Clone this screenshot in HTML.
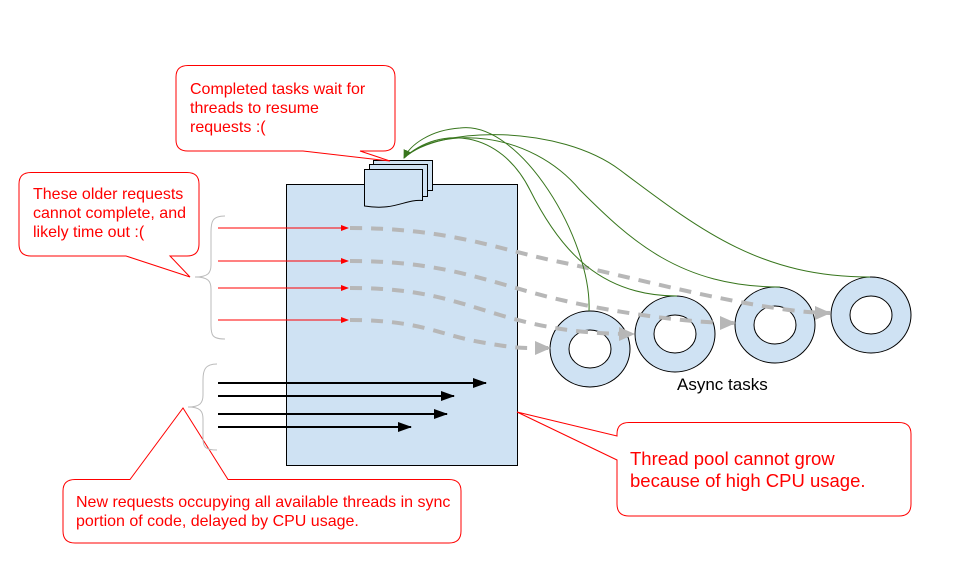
<!DOCTYPE html>
<html><head><meta charset="utf-8"><style>
html,body{margin:0;padding:0;background:#fff;}
svg{display:block;font-family:"Liberation Sans",Arial,sans-serif;}
</style></head><body>
<svg width="960" height="574" viewBox="0 0 960 574" xmlns="http://www.w3.org/2000/svg">
<defs>
<marker id="ar" markerWidth="8" markerHeight="6" refX="7" refY="3" orient="auto" markerUnits="userSpaceOnUse"><path d="M0,0 L8,3 L0,6 Z" fill="#f00"/></marker>
<marker id="ab" markerWidth="14" markerHeight="10" refX="13" refY="5" orient="auto" markerUnits="userSpaceOnUse"><path d="M0,0 L14,5 L0,10 Z" fill="#000"/></marker>
<marker id="ag" markerWidth="16" markerHeight="14" refX="15" refY="7" orient="auto" markerUnits="userSpaceOnUse"><path d="M0,0 L16,7 L0,14 Z" fill="#b7b7b7"/></marker>
<marker id="agr" markerWidth="9" markerHeight="8" refX="8" refY="4" orient="auto" markerUnits="userSpaceOnUse"><path d="M0,0 L9,4 L0,8 Z" fill="#38761d"/></marker>
</defs>

<rect x="286.5" y="184.5" width="231" height="281" fill="#cfe2f3" stroke="#000" stroke-width="1"/>

<path d="M373.5,160.5 H432.5 V190.5 H373.5 Z" fill="#cfe2f3" stroke="#000"/>
<path d="M369.5,164.5 H427.5 V196.5 H369.5 Z" fill="#cfe2f3" stroke="#000"/>
<path d="M364.5,169.5 H422.5 V200.5 C405,199 395,211 364.5,206 Z" fill="#cfe2f3" stroke="#000"/>

<g fill="#cfe2f3" stroke="#000" stroke-width="1">
<ellipse cx="590" cy="349" rx="40" ry="38"/><ellipse cx="590" cy="349" rx="21" ry="19" fill="#fff"/>
<ellipse cx="675" cy="334" rx="40" ry="38"/><ellipse cx="675" cy="334" rx="21" ry="19" fill="#fff"/>
<ellipse cx="775" cy="325" rx="40" ry="38"/><ellipse cx="775" cy="325" rx="21" ry="19" fill="#fff"/>
<ellipse cx="871" cy="315" rx="40" ry="38"/><ellipse cx="871" cy="315" rx="21" ry="19" fill="#fff"/>
</g>
<text x="677" y="390" font-size="17" fill="#000">Async tasks</text>

<g fill="none" stroke="#b7b7b7" stroke-width="4" stroke-dasharray="12,9">
<path d="M350,228 C450,228 500,250 560,262 S760,313 830,313" marker-end="url(#ag)"/>
<path d="M350,261 C430,261 470,275 530,292 S680,323 735,323" marker-end="url(#ag)"/>
<path d="M350,288 C420,288 450,300 500,315 S590,334 634,334" marker-end="url(#ag)"/>
<path d="M350,320 C420,320 440,335 480,342 S520,348 550,348" marker-end="url(#ag)"/>
</g>

<g fill="none" stroke="#38761d" stroke-width="1">
<path d="M589,311 C592,240 520,120 460,128 C430,130 410,145 404,158" marker-end="url(#agr)"/>
<path d="M677,296 C600,296 560,250 530,190 C500,130 440,125 404,158"/>
<path d="M780,287 C680,287 630,240 580,190 C530,130 440,125 404,158"/>
<path d="M870,277 C760,277 700,230 620,170 C560,125 440,125 404,158"/>
</g>

<g stroke="#f00" stroke-width="1" fill="none">
<line x1="218" y1="228" x2="348" y2="228" marker-end="url(#ar)"/>
<line x1="218" y1="261" x2="348" y2="261" marker-end="url(#ar)"/>
<line x1="218" y1="288" x2="348" y2="288" marker-end="url(#ar)"/>
<line x1="218" y1="320" x2="348" y2="320" marker-end="url(#ar)"/>
</g>

<g stroke="#000" stroke-width="2" fill="none">
<line x1="218" y1="383" x2="486" y2="383" marker-end="url(#ab)"/>
<line x1="218" y1="396" x2="454" y2="396" marker-end="url(#ab)"/>
<line x1="218" y1="414" x2="447" y2="414" marker-end="url(#ab)"/>
<line x1="218" y1="427" x2="411" y2="427" marker-end="url(#ab)"/>
</g>

<g fill="#fff" stroke="#f00" stroke-width="1">
<path d="M188,65.5 H383 Q395,65.5 395,77 V140 Q395,151 383,151 H360 L390,161 L303,151 H188 Q176,151 176,140 V77 Q176,65.5 188,65.5 Z"/>
<path d="M31,172.5 H187 Q199,172.5 199,184 V244 Q199,256 187,256 H170 L190,277 L126,256 H31 Q19,256 19,244 V184 Q19,172.5 31,172.5 Z"/>
<path d="M75,479.5 H130 L183,408 L228,479.5 H449 Q461,479.5 461,491 V531 Q461,543 449,543 H75 Q63,543 63,531 V491 Q63,479.5 75,479.5 Z"/>
<path d="M629,422.5 H899 Q911,422.5 911,434 V504 Q911,516 899,516 H629 Q617,516 617,504 V460 L517,412 L617,436 V434 Q617,422.5 629,422.5 Z"/>
</g>

<g fill="none" stroke="#bbb" stroke-width="1">
<path d="M225,216 C212,216 211,222 211,232 V265 C211,273 208,277 195,277 C208,277 211,281 211,289 V325 C211,335 212,339 225,339"/>
<path d="M217,364 C205,364 203,370 203,380 V395 C203,403 200,407 188,407 C200,407 203,411 203,419 V438 C203,447 205,450 217,450"/>
</g>

<g fill="#f00" font-size="16">
<text x="190" y="94">Completed tasks wait for</text>
<text x="190" y="113">threads to resume</text>
<text x="190" y="132">requests :(</text>
<text x="33" y="199">These older requests</text>
<text x="33" y="218">cannot complete, and</text>
<text x="33" y="237">likely time out :(</text>
<text x="76" y="507">New requests occupying all available threads in sync</text>
<text x="76" y="526">portion of code, delayed by CPU usage.</text>
<text x="630" y="465" font-size="18.5">Thread pool cannot grow</text>
<text x="630" y="487" font-size="18.5">because of high CPU usage.</text>
</g>
</svg>
</body></html>
